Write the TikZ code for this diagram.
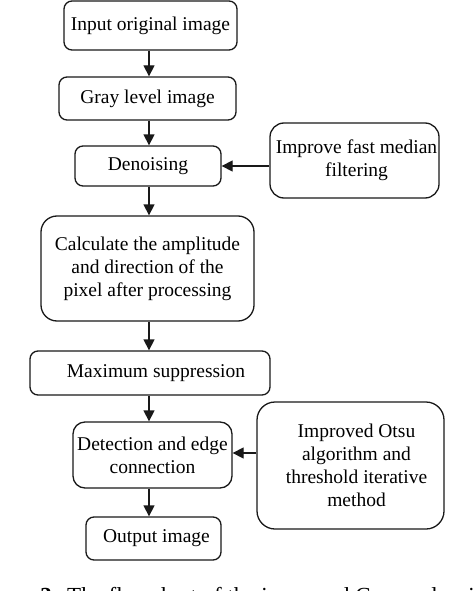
\documentclass[tikz,border=0pt]{standalone}
\usepackage{fontspec}
\setmainfont{Liberation Serif}
\usetikzlibrary{arrows.meta}
\tikzset{
  stage/.style={draw=black!90, line width=1.3pt, rounded corners=8pt, align=center, inner sep=0pt,
    font=\fontsize{19.5}{23}\selectfont},
  arr/.style={draw=black!90, line width=1.3pt, -{Triangle[width=11pt,length=11pt]}}
}
\begin{document}
\begin{tikzpicture}[x=1pt,y=-1pt]
\useasboundingbox (0,0) rectangle (474,591);
\coordinate (spine) at (149,0);
\node[stage, minimum width=173pt, minimum height=49pt] (in) at (150.5,25.5) {Input original image};
\node[stage, minimum width=177pt, minimum height=43pt] (gray) at (147.5,98.5) {Gray level image};
\node[stage, minimum width=146pt, minimum height=40pt] (dn) at (148,166) {Denoising};
\node[stage, minimum width=169pt, minimum height=75pt, rounded corners=14pt] (fmf) at (354.5,160.5) {\hspace{4pt}Improve fast median\\\hspace{4pt}filtering};
\node[stage, minimum width=213pt, minimum height=105pt, rounded corners=16pt] (calc) at (147.5,268.5) {Calculate the amplitude\\and direction of the\\pixel after processing};
\node[stage, minimum width=240pt, minimum height=44pt] (max) at (150,373) {\hspace{12pt}Maximum suppression};
\node[stage, minimum width=159pt, minimum height=66pt, rounded corners=12pt] (det) at (152.5,455) {Detection and edge\\connection};
\node[stage, minimum width=187pt, minimum height=127pt, rounded corners=18pt] (otsu) at (350.5,465.5) {\hspace{12pt}Improved Otsu\\\hspace{12pt}algorithm and\\\hspace{12pt}threshold iterative\\\hspace{12pt}method};
\node[stage, minimum width=135pt, minimum height=43pt] (out) at (153.5,538.5) {\hspace{6pt}Output image};
% main flow
\draw[arr] (in.south -| spine) -- (gray.north -| spine);
\draw[arr] (gray.south -| spine) -- (dn.north -| spine);
\draw[arr] (dn.south -| spine) -- (calc.north -| spine);
\draw[arr] (calc.south -| spine) -- (max.north -| spine);
\draw[arr] (max.south -| spine) -- (det.north -| spine);
\draw[arr] (det.south -| spine) -- (out.north -| spine);
% side inputs
\draw[arr] (fmf.west |- dn.east) -- (dn.east);
\draw[arr] (otsu.west |- 0,453) -- (det.east |- 0,453);
\node[anchor=base west, inner sep=0pt, font=\fontsize{23}{27}\selectfont] (cap) at (67,603)
  {\llap{\textbf{Figure 3:} }The flowchart of the improved Canny algorithm.};
\end{tikzpicture}
\end{document}
